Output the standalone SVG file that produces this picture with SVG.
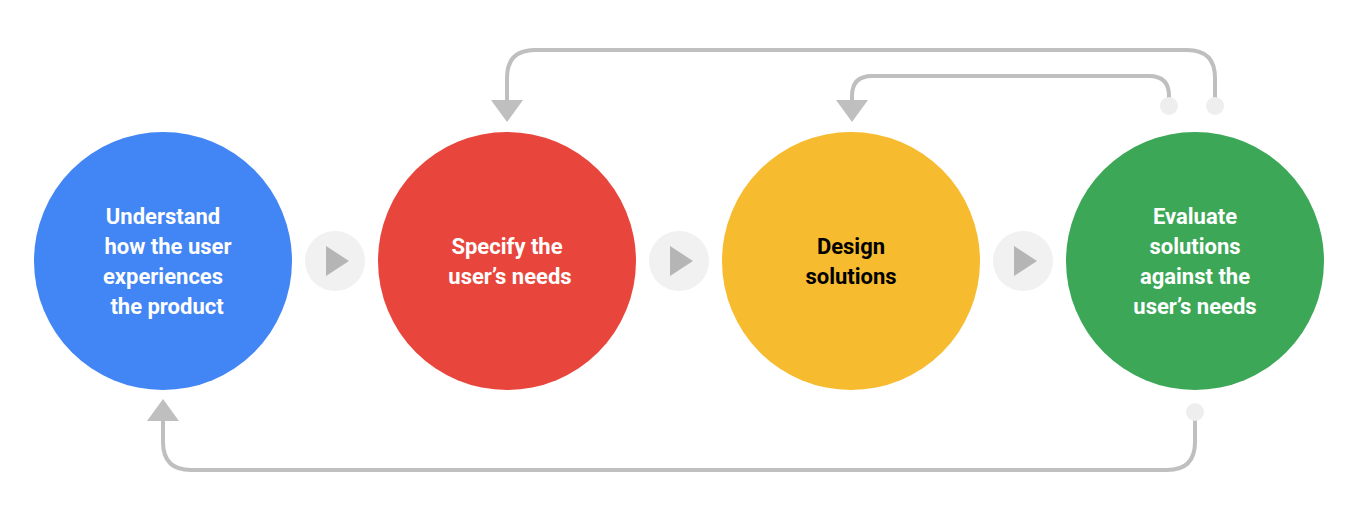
<svg xmlns="http://www.w3.org/2000/svg" width="1358" height="517" viewBox="0 0 1358 517">
<style>
.t{font-family:Roboto,"Liberation Sans",sans-serif;font-weight:bold;font-size:22px;text-anchor:middle;fill:#fff}
.c{fill:none;stroke:#bfbfbf;stroke-width:4}
.d{fill:#eeeeee}
.p{fill:#f1f1f1}
.pt{fill:#b5b5b5}
.a{fill:#bfbfbf}
</style>
<rect width="1358" height="517" fill="#fff"/>
<g id="connectors">
<path class="c" d="M1215 104 V78 Q1215 50 1187 50 H535 Q507 50 507 78 V102"/>
<polygon class="a" points="491,100 523,100 507,122"/>
<path class="c" d="M1169 104 V96 Q1169 76 1149 76 H872 Q852 76 852 96 V102"/>
<polygon class="a" points="836,100 868,100 852,122"/>
<path class="c" d="M1195 414 V442 Q1195 470 1167 470 H191 Q163 470 163 442 V420"/>
<polygon class="a" points="147,421 179,421 163,399"/>
<circle class="d" cx="1215" cy="106" r="9"/>
<circle class="d" cx="1169" cy="106" r="9"/>
<circle class="d" cx="1195" cy="412" r="9"/>
<g><circle class="p" cx="335" cy="261" r="30"/><polygon class="pt" points="326,246 326,276 349,261"/></g>
<g><circle class="p" cx="679" cy="261" r="30"/><polygon class="pt" points="670,246 670,276 693,261"/></g>
<g><circle class="p" cx="1023" cy="261" r="30"/><polygon class="pt" points="1014,246 1014,276 1037,261"/></g>
</g>
<g id="n1"><circle cx="163" cy="261" r="129" fill="#4285f4"/>
<text class="t" x="163" y="224">Understand</text><text class="t" x="168" y="254">how the user</text><text class="t" x="163" y="284">experiences</text><text class="t" x="167" y="314">the product</text></g>
<g id="n2"><circle cx="507" cy="261" r="129" fill="#e8453c"/>
<text class="t" x="507" y="254">Specify the</text><text class="t" x="510" y="284">user’s needs</text></g>
<g id="n3"><circle cx="851" cy="261" r="129" fill="#f6bb2e"/>
<text class="t" x="851" y="254" style="fill:#000">Design</text><text class="t" x="851" y="284" style="fill:#000">solutions</text></g>
<g id="n4"><circle cx="1195" cy="261" r="129" fill="#3ba757"/>
<text class="t" x="1195" y="224">Evaluate</text><text class="t" x="1195" y="254">solutions</text><text class="t" x="1195" y="284">against the</text><text class="t" x="1195" y="314">user’s needs</text></g>
</svg>
